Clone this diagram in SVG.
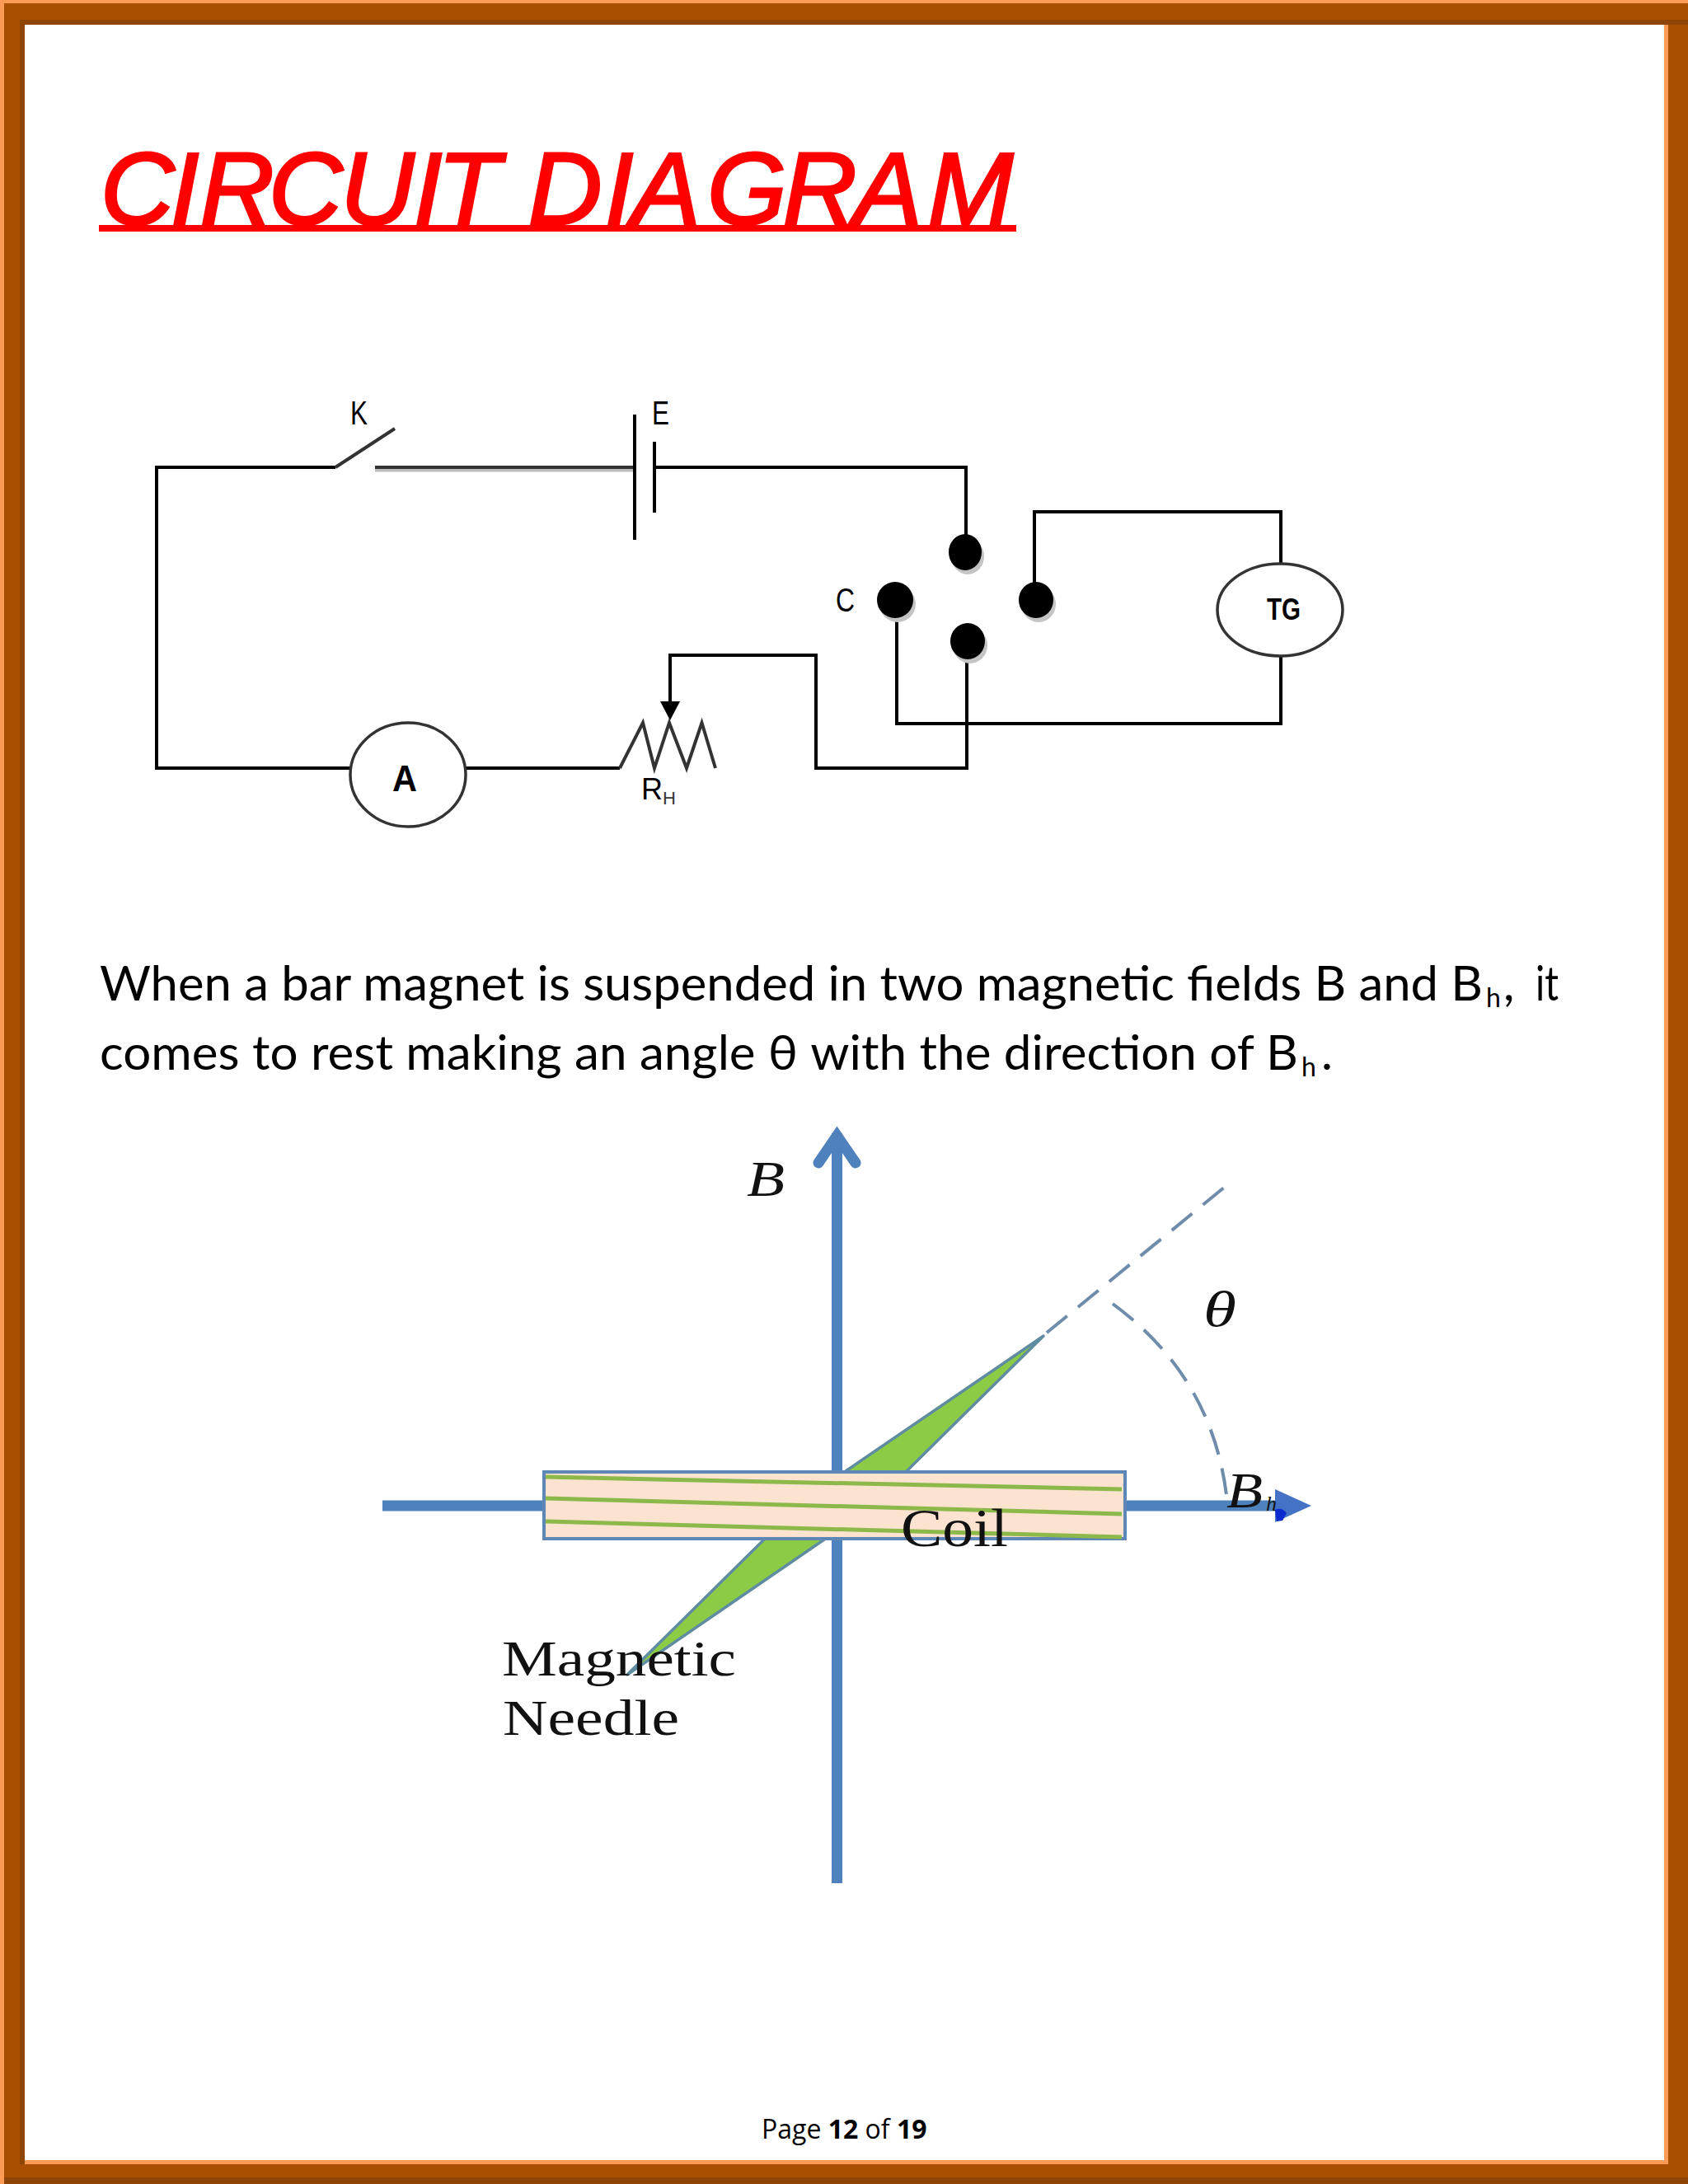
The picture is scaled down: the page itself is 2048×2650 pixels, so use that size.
<svg xmlns="http://www.w3.org/2000/svg" width="2048" height="2650" viewBox="0 0 2048 2650">
<style>
.wire{fill:none;stroke:#000;stroke-width:4}
.lab{font-family:"Liberation Sans",Arial,sans-serif;fill:#000}
.body{font-family:Lato,"Noto Sans",sans-serif;font-size:59px;fill:#000}
.sub{font-size:32px}
.serif{font-family:"Liberation Serif","Times New Roman",serif;fill:#111}
.ital{font-style:italic}
.axis{fill:none;stroke:#4F81BD;stroke-width:13}
.dash{fill:none;stroke:#6F8CAB;stroke-width:4;stroke-dasharray:32 17}
.coilline{fill:none;stroke:#8DB84A;stroke-width:5}
.dot{fill:#000}
.shadow{fill:#c4c4c4}
</style>
<rect width="2048" height="2650" fill="#fff"/>
<g id="page-border">
<rect x="0" y="0" width="2048" height="2650" fill="#FB9B55"/>
<path fill="#A84F02" fill-rule="evenodd" d="M5 4H2048V2650H5Z M30 30V2626H2024V30Z"/>
<path fill="#8F4506" d="M5 2642H2048V2650H5Z M24 24H2048V30H24Z M24 24H30V2626H24Z"/>
<path fill="#FB9B55" d="M2019 30H2024V2626H30V2621H2019Z"/>
<rect x="30" y="30" width="1989" height="2591" fill="#fff"/>
</g>
<g id="title">
<text x="122 207 243 326 413 502 531 625 641 734 767 858 950 1036 1126" y="272" font-family="Liberation Sans,Arial,sans-serif" font-style="italic" font-size="124" fill="#FF0000" stroke="#FF0000" stroke-width="3">CIRCUIT DIAGRAM</text>
<rect x="120" y="273" width="1113" height="8" fill="#FF0000"/>
</g>
<g id="connectors">
<path class="wire" d="M407 567H190V932H425"/>
<path d="M407 567L479 520" fill="none" stroke="#333" stroke-width="4"/>
<path d="M455 570H770" fill="none" stroke="#bdbdbd" stroke-width="5"/>
<path d="M455 567H770" fill="none" stroke="#333" stroke-width="4"/>
<path class="wire" d="M794 567H1172V650"/>
<path class="wire" d="M1255 728V621H1554V684"/>
<path class="wire" d="M1554 796V878H1088V750"/>
<path class="wire" d="M1173 800V932H990V795H813V852"/>
<path class="wire" d="M564 932H752"/>
<path d="M752 932L780 877L794 932L812 877L833 932L851.500 877L868 932" fill="none" stroke="#333" stroke-width="4"/>
</g>
<g id="switch-K"><text class="lab" x="425" y="515" font-size="40" textLength="21" lengthAdjust="spacingAndGlyphs">K</text></g>
<g id="battery-E">
<path class="wire" d="M770 503V655M794 536V622"/>
<text class="lab" x="791" y="515" font-size="40" textLength="21" lengthAdjust="spacingAndGlyphs">E</text>
</g>
<g id="ammeter-A">
<ellipse cx="495" cy="940" rx="70" ry="63" fill="#fff" stroke="#333" stroke-width="3.500"/>
<text class="lab" x="476" y="960" font-size="44" font-weight="bold" textLength="30" lengthAdjust="spacingAndGlyphs">A</text>
</g>
<g id="rheostat-RH">
<path d="M801 851H825L813 874Z" fill="#000"/>
<text class="lab" y="970" font-size="36"><tspan x="778">R</tspan><tspan x="804" dy="6" font-size="22" fill="#333">H</tspan></text>
</g>
<g id="commutator">
<ellipse class="shadow" cx="1174" cy="675" rx="20" ry="22"/><ellipse class="dot" cx="1171" cy="670" rx="20" ry="22"/>
<ellipse class="shadow" cx="1089" cy="733" rx="22" ry="22"/><ellipse class="dot" cx="1086" cy="728" rx="22" ry="22"/>
<ellipse class="shadow" cx="1260" cy="733" rx="21" ry="22"/><ellipse class="dot" cx="1257" cy="728" rx="21" ry="22"/>
<ellipse class="shadow" cx="1177" cy="783" rx="21" ry="22"/><ellipse class="dot" cx="1174" cy="778" rx="21" ry="22"/>
<text class="lab" x="1014" y="742" font-size="40" textLength="23" lengthAdjust="spacingAndGlyphs">C</text>
</g>
<g id="galvanometer-TG">
<ellipse cx="1553" cy="740" rx="76" ry="56" fill="#fff" stroke="#333" stroke-width="3.500"/>
<text class="lab" x="1537" y="752" font-size="37" font-weight="bold" textLength="41" lengthAdjust="spacingAndGlyphs">TG</text>
</g>
<g id="paragraph">
<text class="body" x="121" y="1214"><tspan textLength="1678" lengthAdjust="spacingAndGlyphs">When a bar magnet is suspended in two magnetic fields B and B</tspan><tspan class="sub" x="1803" dy="8">h</tspan><tspan x="1824" dy="-8">,</tspan><tspan x="1863" textLength="28" lengthAdjust="spacingAndGlyphs">it</tspan></text>
<text class="body" x="121" y="1298"><tspan textLength="1454" lengthAdjust="spacingAndGlyphs">comes to rest making an angle θ with the direction of B</tspan><tspan class="sub" x="1579" dy="8">h</tspan><tspan x="1603" dy="-8">.</tspan></text>
</g>
<g id="field-B">
<path class="axis" d="M1015.500 1375V2285"/>
<path class="axis" stroke-linecap="round" stroke-width="13" d="M993 1411L1015.500 1378L1038 1411"/>
<text class="serif ital" x="906" y="1451" font-size="62" textLength="46" lengthAdjust="spacingAndGlyphs">B</text>
</g>
<g id="field-Bh">
<path class="axis" stroke-width="11" d="M464 1827H1555"/>
<path d="M1547 1807L1591 1827L1547 1847Z" fill="#4472C4"/>
<path d="M1547 1832Q1555 1828 1561 1836L1556 1845L1549 1846Z" fill="#0A2BD0"/>
<text class="serif ital" x="1488" y="1829" font-size="62" textLength="44" lengthAdjust="spacingAndGlyphs">B</text>
<text class="serif ital" x="1536" y="1833" font-size="26">h</text>
</g>
<g id="angle">
<path class="dash" d="M1270 1617L1485 1441"/>
<path class="dash" d="M1350 1582Q1470 1670 1488 1814"/>
<text class="serif ital" x="1460" y="1609" font-size="62" textLength="40" lengthAdjust="spacingAndGlyphs">θ</text>
</g>
<g id="magnetic-needle">
<path d="M1266 1621L1100 1785L927 1868L761 2032L1000 1868L1026 1785Z" fill="#8CCB46" stroke="#5F8CA0" stroke-width="3.500" stroke-linejoin="round"/>
<text class="serif" x="609" y="2033" font-size="61" textLength="284" lengthAdjust="spacingAndGlyphs">Magnetic</text>
<text class="serif" x="610" y="2105" font-size="61" textLength="214" lengthAdjust="spacingAndGlyphs">Needle</text>
</g>
<g id="coil">
<rect x="660" y="1786" width="705" height="81" fill="#FBE3D0" stroke="#5F87B5" stroke-width="4"/>
<path class="coilline" d="M662 1792L1361 1807M662 1818L1361 1837M662 1846L1361 1865"/>
<text class="serif" x="1093" y="1876" font-size="65" textLength="130" lengthAdjust="spacingAndGlyphs">Coil</text>
</g>
<g id="footer">
<text x="924" y="2595" font-family="Open Sans,Noto Sans,sans-serif" font-size="32" fill="#000">Page <tspan font-weight="bold">12</tspan> of <tspan font-weight="bold">19</tspan></text>
</g>
</svg>
